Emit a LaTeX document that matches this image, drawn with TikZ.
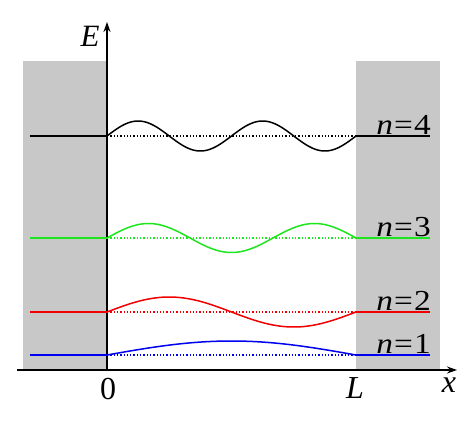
\documentclass[tikz,border=0pt]{standalone}
\usepackage{fontspec}
\usepackage{graphicx}
\setmainfont{Liberation Serif}
\usetikzlibrary{arrows.meta}
\definecolor{wallgray}{RGB}{200,200,200}
\definecolor{lvgreen}{RGB}{30,230,30}
\definecolor{lvred}{RGB}{240,0,0}
\definecolor{lvblue}{RGB}{0,0,240}
\tikzset{
  wall/.style={fill=wallgray, draw=none},
  axisline/.style={line width=1.6pt, -{Stealth[length=10pt,width=7pt]}},
  level/.style={line width=1.5pt},
  dotlevel/.style={line width=1.3pt, dotted},
  lbl/.style={inner sep=0pt, font=\fontsize{32}{36}\selectfont},
  elbl/.style={inner sep=0pt, font=\fontsize{31}{34}\selectfont},
  nlbl/.style={inner sep=0pt, anchor=base east, font=\fontsize{29}{32}\selectfont},
}
\begin{document}
\begin{tikzpicture}[x=1pt,y=-1pt]
\useasboundingbox (0,0) rectangle (474,428);
\fill[white] (0,0) rectangle (474,428);
% walls
\fill[wall] (23,61) rectangle (107,370);
\fill[wall] (356,61) rectangle (440,370);
% axes
\coordinate (o) at (107,370);
\coordinate (ytop) at (107,22);
\coordinate (xl) at (17,370);
\coordinate (xr) at (457,370);
\draw[axisline] (o) -- (ytop);
\draw[axisline] (xl) -- (xr);
\node[elbl, anchor=base] (E) at (90,47) {\textit{E}};
\node[lbl, anchor=base] (zero) at (108,399) {0};
\node[lbl, anchor=base] (Ll) at (355,398) {\textit{L}};
\node[lbl, anchor=base] (xlab) at (449,392) {\textit{x}};
% levels
\foreach \n/\yy/\col/\amp in {4/136/black/15, 3/238/lvgreen/14.5, 2/312/lvred/15, 1/355/lvblue/14}{
  \coordinate (a\n) at (30,\yy);
  \coordinate (b\n) at (107,\yy);
  \coordinate (c\n) at (356,\yy);
  \coordinate (d\n) at (430,\yy);
  \draw[level, \col] (a\n) -- (b\n);
  \draw[level, \col] (c\n) -- (d\n);
  \draw[dotlevel, \col] (b\n) -- (c\n);
  \draw[level, \col, domain=0:1, samples=120, smooth] plot ({107+249*\x},{\yy-\amp*sin(\n*180*\x)});
  \node[nlbl] (lab\n) at (431,{\yy-2}) {\scalebox{1.15}[1]{\textit{n}\kern1pt=\kern1pt\n}};
}
\end{tikzpicture}
\end{document}
